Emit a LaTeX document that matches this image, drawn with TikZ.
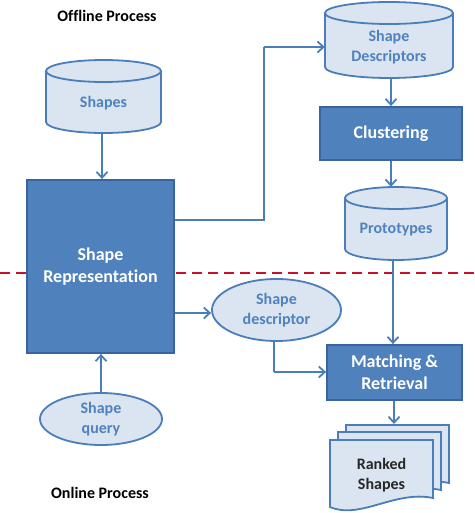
\documentclass[tikz,border=0pt]{standalone}
\usepackage{fontspec}
\setmainfont[Ligatures=NoCommon]{Carlito}
\usetikzlibrary{arrows.meta,shapes.geometric}
\definecolor{dk}{HTML}{4F81BD}
\definecolor{bd}{HTML}{3A64A0}
\definecolor{lt}{HTML}{DBE5F1}
\definecolor{ln}{HTML}{4A7EBB}
\definecolor{rd}{HTML}{C8102E}
\definecolor{tx}{HTML}{4F81BD}
\tikzset{
  arr/.style={draw=ln, line width=2pt, -{Straight Barb[length=6pt,width=11pt,line width=1.8pt]}},
  link/.style={draw=ln, line width=2pt},
  dkbox/.style={draw=bd, line width=1.8pt, fill=dk, text=white, font=\fontsize{18}{22}\selectfont\bfseries, align=center, inner sep=0pt},
  ltshape/.style={draw=ln, line width=1.8pt, fill=lt},
  lbl/.style={text=tx, font=\fontsize{16}{20}\selectfont\bfseries, align=center, inner sep=0pt},
  ttl/.style={font=\fontsize{16}{18}\selectfont\bfseries, inner sep=0pt},
  ell/.style={ellipse, draw=ln, line width=1.8pt, fill=lt, text=tx, font=\fontsize{16}{20}\selectfont\bfseries, align=center, inner sep=0pt},
}
\newcommand{\cylshape}[5]{% xl yt xr yb ry
  \pgfmathsetmacro{\rxx}{(#3-#1)/2}
  \path[ltshape] (#1,#2+#5) -- (#1,#4-#5) arc[start angle=180,end angle=0,x radius=\rxx,y radius=#5]
     -- (#3,#2+#5) arc[start angle=0,end angle=-180,x radius=\rxx,y radius=#5] -- cycle;
  \draw[draw=ln, line width=1.8pt] (#1,#2+#5) arc[start angle=180,end angle=0,x radius=\rxx,y radius=#5];
}
\newcommand{\docshape}[2]{% x y (top-left), w=103
  \path[ltshape] (#1,#2) -- (#1+103,#2) -- (#1+103,#2+58)
     .. controls (#1+65,#2+50) and (#1+30,#2+80) .. (#1,#2+67) -- cycle;
}
\begin{document}
\begin{tikzpicture}[x=1pt,y=-1pt]
\useasboundingbox (0,0) rectangle (474,513);
% dashed separator
\coordinate (dl) at (0,273);
\coordinate (dr) at (474,273);
\draw[rd, line width=2.2pt, dash pattern=on 10pt off 6pt] (dl) -- (dr);

% titles
\node[ttl] (off) at (107,16) {Offline Process};
\node[ttl] (on) at (100,493) {Online Process};

% cylinders
\cylshape{46}{60}{161}{133}{11}
\node[lbl, minimum width=115pt, minimum height=73pt] (shapes) at (103.5,96.5) {};
\node[lbl] at (103.5,103) {Shapes};

\cylshape{325}{2}{453}{78}{11}
\node[lbl, minimum width=128pt, minimum height=76pt] (sdesc) at (389,40) {};
\node[lbl] at (389,47.5) {Shape\\Descriptors};

\cylshape{345}{187}{447}{260}{11}
\node[lbl, minimum width=102pt, minimum height=73pt] (proto) at (396,223.5) {};
\node[lbl] at (396,230) {Prototypes};

% boxes
\node[dkbox, minimum width=147pt, minimum height=173pt] (rep) at (100.5,266.5) {Shape\\Representation};
\node[dkbox, minimum width=142pt, minimum height=53pt] (clust) at (391,133.5) {Clustering};
\node[dkbox, minimum width=135pt, minimum height=55pt] (match) at (394.5,372.5) {Matching \&\\Retrieval};

% ellipses
\node[ell, minimum width=129pt, minimum height=62pt] (sdq) at (276.5,310) {Shape\\descriptor};
\node[ell, minimum width=122pt, minimum height=52pt] (query) at (101,419) {Shape\\query};

% ranked shapes
\docshape{346}{425}
\docshape{338}{432}
\docshape{330}{440}
\node[font=\fontsize{16}{20}\selectfont\bfseries, text=black!85, align=center, inner sep=0pt, minimum width=103pt, minimum height=60pt] (ranked) at (381.5,475) {Ranked\\Shapes};
\coordinate (rtop) at (394,424);

% connectors
\coordinate (c1) at (264,220);
\coordinate (c2) at (264,47);
\draw[link] (rep.east |- c1) -- (c1) -- (c2);
\draw[arr] (c2) -- (sdesc.west |- c2);
\draw[arr] (shapes.south -| 102,0) -- (rep.north -| 102,0);
\draw[arr] (clust.north |- sdesc.south) -- (clust.north);
\draw[arr] (clust.south) -- (clust.south |- proto.north);
\coordinate (c3) at (174,313);
\draw[arr] (rep.east |- c3) -- (sdq.west |- c3);
\coordinate (c4) at (274,372);
\draw[link] (c4 |- sdq.south) -- (c4);
\draw[arr] (c4) -- (match.west |- c4);
\coordinate (c5) at (393,260);
\draw[arr] (c5) -- (c5 |- match.north);
\draw[arr] (match.south -| rtop) -- (rtop);
\draw[arr] (query.north) -- (query.north |- rep.south);
\end{tikzpicture}
\end{document}
